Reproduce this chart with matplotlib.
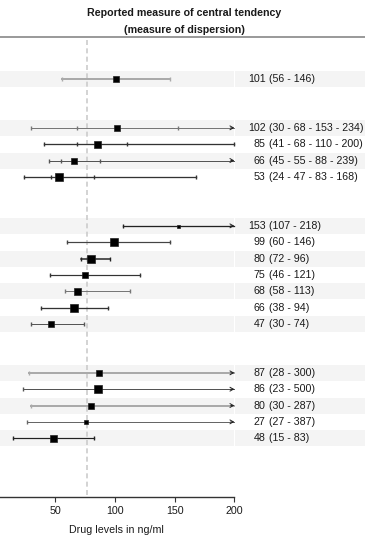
import numpy as np
import matplotlib
matplotlib.use("Agg")
import matplotlib.pyplot as plt

plt.rcParams['font.family'] = ['Liberation Sans', 'DejaVu Sans']

# --- data --------------------------------------------------------------
# row index of each study (blank rows are group gaps)
rows = [2, 5, 6, 7, 8, 11, 12, 13, 14, 15, 16, 17, 20, 21, 22, 23, 24]
central = [101, 102, 85, 66, 53, 153, 99, 80, 75, 68, 66, 47, 87, 86, 80, 27, 48]
box_x = [101, 102, 85, 66, 53, 153, 99, 80, 75, 68, 66, 47, 87, 86, 80, 76, 48]
low = [56, 30, 41, 45, 24, 107, 60, 72, 46, 58, 38, 30, 28, 23, 30, 27, 15]
q1 = [np.nan, 68, 68, 55, 47] + [np.nan] * 12
q3 = [np.nan, 153, 110, 88, 83] + [np.nan] * 12
high = [146, 234, 200, 239, 168, 218, 146, 96, 121, 113, 94, 74, 300, 500, 287, 387, 83]
shaded = [1, 1, 0, 1, 0, 1, 0, 1, 0, 1, 0, 1, 1, 0, 1, 0, 1]
ref_line = 77

xticks = [50, 100, 150, 200]
x_max = 200

# --- styles -----------------------------------------------------------
line_col = ['#aaaaaa', '#777777', '#333333', '#555555', '#333333', '#222222',
            '#444444', '#222222', '#333333', '#777777', '#333333', '#555555',
            '#aaaaaa', '#555555', '#aaaaaa', '#666666', '#222222']
line_px = [2, 1, 1.3, 1, 1.3, 1.3, 1.2, 1.5, 1.2, 1, 1.3, 1, 2, 1, 2, 1, 1.2]
box_px = [6, 6, 7, 6, 7.5, 3, 7.5, 8, 5.5, 7, 7.5, 5.5, 5.5, 8, 5.5, 5, 7]

PX = 72 / 100  # points per pixel at dpi 100
FS = 7.7
band_col = '#f4f4f4'
txt_col = '#1a1a1a'

fig = plt.figure(figsize=(3.65, 5.43), dpi=100)
ax = fig.add_axes([0, 46 / 543, 1, 459 / 543])
x_lo, x_hi = 4.0, 309.3
ax.set_xlim(x_lo, x_hi)
ax.set_ylim(27.6, -0.5)

# row bands
for k, s in zip(rows, shaded):
    if s:
        ax.barh(k, x_max - x_lo, left=x_lo, height=0.98, color=band_col, zorder=0)
        ax.barh(k, x_hi - 200.8, left=200.8, height=0.98, color=band_col, zorder=0)

# reference line and header rule
ax.plot([ref_line, ref_line], [-0.4, 27.6], color='#cccccc', lw=1.2,
        ls=(0, (3, 2)), zorder=1)
ax.plot([x_lo, x_hi], [-0.57, -0.57], color='#888888', lw=1.2, clip_on=False)

for i, k in enumerate(rows):
    c = line_col[i]
    lw = line_px[i] * PX
    hi = min(high[i], x_max)
    ax.plot([low[i], hi], [k, k], color=c, lw=lw, zorder=2)
    ax.plot(low[i], k, marker='|', ms=5 * PX, mew=1, color=c, zorder=2)
    for q in (q1[i], q3[i]):
        if not np.isnan(q):
            ax.plot(q, k, marker='|', ms=3.3 * PX, mew=1, color=c, zorder=2)
    if high[i] > x_max:
        # value runs off the scale: small open arrowhead at the axis end
        ax.annotate('', xy=(x_max, k), xytext=(x_max - 3, k),
                    arrowprops=dict(arrowstyle='->,head_length=0.35,head_width=0.2',
                                    color='#222222', lw=0.7, mutation_scale=7,
                                    shrinkA=0, shrinkB=0), zorder=2)
    else:
        ax.plot(hi, k, marker='|', ms=5 * PX, mew=1, color=c, zorder=2)
    ax.plot(box_x[i], k, marker='s', ms=box_px[i] * PX, color='black',
            mec='#222222', mew=0.5, zorder=3)

    # text column
    if np.isnan(q1[i]):
        disp = f" ({low[i]} - {high[i]})"
    else:
        disp = f" ({low[i]} - {int(q1[i])} - {int(q3[i])} - {high[i]})"
    ax.text(226.2, k, str(central[i]), ha='right', va='center', fontsize=FS,
            color=txt_col)
    ax.text(226.2, k, disp, ha='left', va='center', fontsize=FS, color=txt_col)

# axis
for side in ('top', 'left', 'right'):
    ax.spines[side].set_visible(False)
ax.spines['bottom'].set_bounds(x_lo, x_max)
ax.spines['bottom'].set_color('#333333')
ax.spines['bottom'].set_linewidth(1.0)
ax.set_xticks(xticks)
ax.set_xticklabels([str(t) for t in xticks])
ax.tick_params(axis='x', length=3.6, width=0.8, color='#333333', pad=3,
               labelsize=FS, labelcolor=txt_col)
ax.set_yticks([])
ax.set_xlabel('Drug levels in ng/ml', fontsize=FS, color=txt_col)
ax.xaxis.set_label_coords(116 / 365, -0.062)

fig.text(184.5 / 365, 1 - 13 / 543, 'Reported measure of central tendency',
         ha='center', va='center', fontsize=FS, fontweight='bold', color=txt_col)
fig.text(184.5 / 365, 1 - 30 / 543, '(measure of dispersion)',
         ha='center', va='center', fontsize=FS, fontweight='bold', color=txt_col)

fig.savefig('out.png', dpi=100)
